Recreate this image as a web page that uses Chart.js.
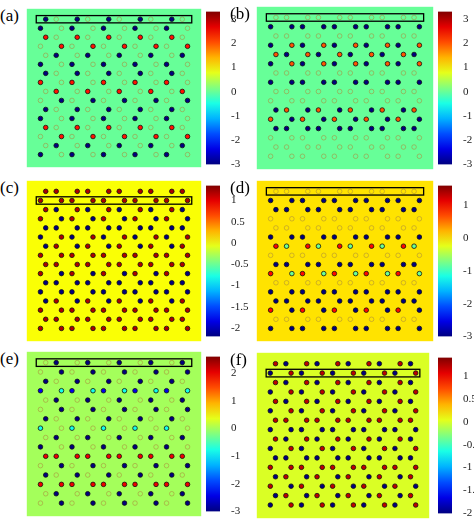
<!DOCTYPE html>
<html>
<head>
<meta charset="utf-8">
<script src="https://cdn.jsdelivr.net/npm/chart.js@4"></script>
<style>
  body { margin: 0; background: #fff; width: 474px; height: 523px; position: relative; overflow: hidden; }
  canvas { position: absolute; }
  .lbl { position: absolute; font-family: "Liberation Serif", serif; font-size: 17px; color: #000; }
</style>
</head>
<body>
<script>
// armchair lattice: 5 cells across, 16 rows
const cells = [0, 1, 2, 3, 4];
const evenOffsets = [0.5, 1.5];   // pair rows
const oddOffsets = [0, 2];        // spread rows

// per panel: [left site, right site] value of each row (0 = empty site)
const rowsA = [[-3,0],[-3,0],[2.4,0],[0,2.4],[0,-3],[-3,0],[-3,0],[2.4,0],[0,2.4],[0,-3],[-3,0],[-3,0],[2.4,0],[0,2.4],[0,-3],[-3,0]];
const rowsB = [[0,0],[-3,-3],[0,0],[-3,2],[2,-3],[-3,2],[0,0],[-3,-3],[0,0],[0,0],[-3,2],[2,-3],[-3,-3],[0,0],[0,0],[0,0]];
const rowsC = [[1.2,1.2],[1.2,1.2],[1.2,-2.2],[1.2,-2.2],[-2.2,-2.2],[-2.2,1.2],[-2.2,1.2],[1.2,1.2],[1.2,1.2],[1.2,-2.2],[-2.2,-2.2],[-2.2,-2.2],[-2.2,1.2],[1.2,1.2],[1.2,1.2],[1.2,1.2]];
const rowsD = [[0,0],[-3,-3],[-3,-3],[0,0],[0,0],[-3,-3],[1,-0.8],[0,0],[-3,-3],[1,-0.8],[0,0],[-3,-3],[-3,-3],[1,-3],[0,0],[-3,-3]];
const rowsE = [[0,-3],[0,-3],[-3,0],[-2.4,-0.8],[0,-3],[0,-3],[-3,0],[-0.8,0],[0,-3],[-3,0],[2,2],[0,-3],[-3,0],[2,2],[0,-3],[0,-3]];
const rowsF = [[1.2,-2],[-2,1.2],[1.2,-2],[-2,1.2],[1.2,-2],[-2,1.2],[1.2,1.2],[-2,-2],[1.2,-2],[-2,1.2],[-2,-2],[1.2,1.2],[-2,1.2],[1.2,-2],[-2,1.2],[-2,1.2]];

const panels = [
  { id: 'a', rows: rowsA, min: -3, max: 3.3, ticks: [3,2,1,0,-1,-2,-3], box: 0, plot: [22, 4, 184, 168], bar: [206, 2, 44, 172] },
  { id: 'b', rows: rowsB, min: -3, max: 3.3, ticks: [3,2,1,0,-1,-2,-3], box: 0, plot: [252, 2, 186, 172], bar: [438, 2, 36, 172] },
  { id: 'c', rows: rowsC, min: -2.2, max: 1.35, ticks: [1,0.5,0,-0.5,-1,-1.5,-2], box: 1, plot: [22, 176, 184, 170], bar: [206, 176, 44, 170] },
  { id: 'd', rows: rowsD, min: -3, max: 1.6, ticks: [1,0,-1,-2,-3], box: 0, plot: [252, 176, 186, 170], bar: [438, 176, 36, 170] },
  { id: 'e', rows: rowsE, min: -3, max: 2.6, ticks: [2,1,0,-1,-2,-3], box: 0, plot: [22, 347, 184, 174], bar: [206, 347, 44, 174] },
  { id: 'f', rows: rowsF, min: -2, max: 1.4, ticks: [1,0.5,0,-0.5,-1,-1.5,-2], box: 1, plot: [252, 348, 182, 175], bar: [438, 348, 36, 175] }
];

function jet(t) {
  t = Math.max(0, Math.min(1, t));
  const c = v => Math.round(255 * Math.max(0, Math.min(1, v)));
  return 'rgb(' + c(1.5 - Math.abs(4 * t - 3)) + ',' + c(1.5 - Math.abs(4 * t - 2)) + ',' + c(1.5 - Math.abs(4 * t - 1)) + ')';
}

function makeCanvas(r) {
  const cv = document.createElement('canvas');
  cv.style.left = r[0] + 'px'; cv.style.top = r[1] + 'px';
  cv.style.width = r[2] + 'px'; cv.style.height = r[3] + 'px';
  cv.width = r[2]; cv.height = r[3];
  document.body.appendChild(cv);
  return cv;
}

panels.forEach(p => {
  const norm = v => (v - p.min) / (p.max - p.min);
  const bg = jet(norm(0));
  const pts = [];
  p.rows.forEach((vals, j) => {
    const offs = j % 2 === 0 ? evenOffsets : oddOffsets;
    cells.forEach(k => {
      offs.forEach((o, s) => pts.push({ x: o + 3 * k, y: j * 0.866, v: vals[s] }));
    });
  });

  const frame = {
    id: 'frame',
    beforeDraw(chart) {
      const { ctx, chartArea: a } = chart;
      ctx.save(); ctx.fillStyle = bg;
      ctx.fillRect(a.left, a.top, a.right - a.left, a.bottom - a.top);
      ctx.restore();
    },
    afterDatasetsDraw(chart) {
      const { ctx, scales } = chart;
      const y0 = scales.y.getPixelForValue(p.box * 0.866 - 0.35);
      const y1 = scales.y.getPixelForValue(p.box * 0.866 + 0.35);
      const x0 = scales.x.getPixelForValue(-0.4);
      const x1 = scales.x.getPixelForValue(14.4);
      ctx.save(); ctx.strokeStyle = '#000'; ctx.lineWidth = 1.3;
      ctx.strokeRect(x0, y0, x1 - x0, y1 - y0);
      ctx.restore();
    }
  };

  new Chart(makeCanvas(p.plot), {
    type: 'scatter',
    data: { datasets: [{
      data: pts,
      pointRadius: 2.3,
      pointBackgroundColor: c => c.raw && c.raw.v !== 0 ? jet(norm(c.raw.v)) : 'rgba(0,0,0,0)',
      pointBorderColor: c => c.raw && c.raw.v !== 0 ? '#111' : 'rgba(170,140,60,0.8)',
      pointBorderWidth: c => c.raw && c.raw.v !== 0 ? 0.8 : 0.7
    }] },
    options: {
      animation: false, responsive: false,
      layout: { padding: 4 },
      plugins: { legend: { display: false }, tooltip: { enabled: false } },
      scales: {
        x: { display: false, min: -1.3, max: 15.3 },
        y: { display: false, reverse: true, min: -1, max: 14.2 }
      }
    },
    plugins: [frame]
  });

  const labelWidth = p.bar[2] - 14;
  new Chart(makeCanvas(p.bar), {
    type: 'bar',
    data: { labels: [''], datasets: [{
      data: [[p.min, p.max]],
      barPercentage: 1, categoryPercentage: 1,
      backgroundColor: c => {
        const { ctx, chartArea } = c.chart;
        if (!chartArea) return '#888';
        const g = ctx.createLinearGradient(0, chartArea.bottom, 0, chartArea.top);
        for (let i = 0; i <= 10; i++) g.addColorStop(i / 10, jet(i / 10));
        return g;
      }
    }] },
    options: {
      animation: false, responsive: false,
      layout: { padding: { top: 2, bottom: 2 } },
      plugins: { legend: { display: false }, tooltip: { enabled: false } },
      scales: {
        x: { display: false },
        y: {
          position: 'right', min: p.min, max: p.max,
          grid: { display: false },
          border: { display: false },
          afterBuildTicks: ax => { ax.ticks = p.ticks.map(v => ({ value: v })); },
          afterFit: ax => { ax.width = labelWidth; },
          ticks: { color: '#222', padding: 3, font: { family: 'Liberation Serif', size: 11 }, callback: v => String(v) }
        }
      }
    }
  });

  const lb = document.createElement('div');
  lb.className = 'lbl';
  lb.textContent = '(' + p.id + ')';
  lb.style.left = (p.plot[0] - 22) + 'px';
  lb.style.top = (p.plot[1] + 2) + 'px';
  document.body.appendChild(lb);
});
</script>
</body>
</html>
